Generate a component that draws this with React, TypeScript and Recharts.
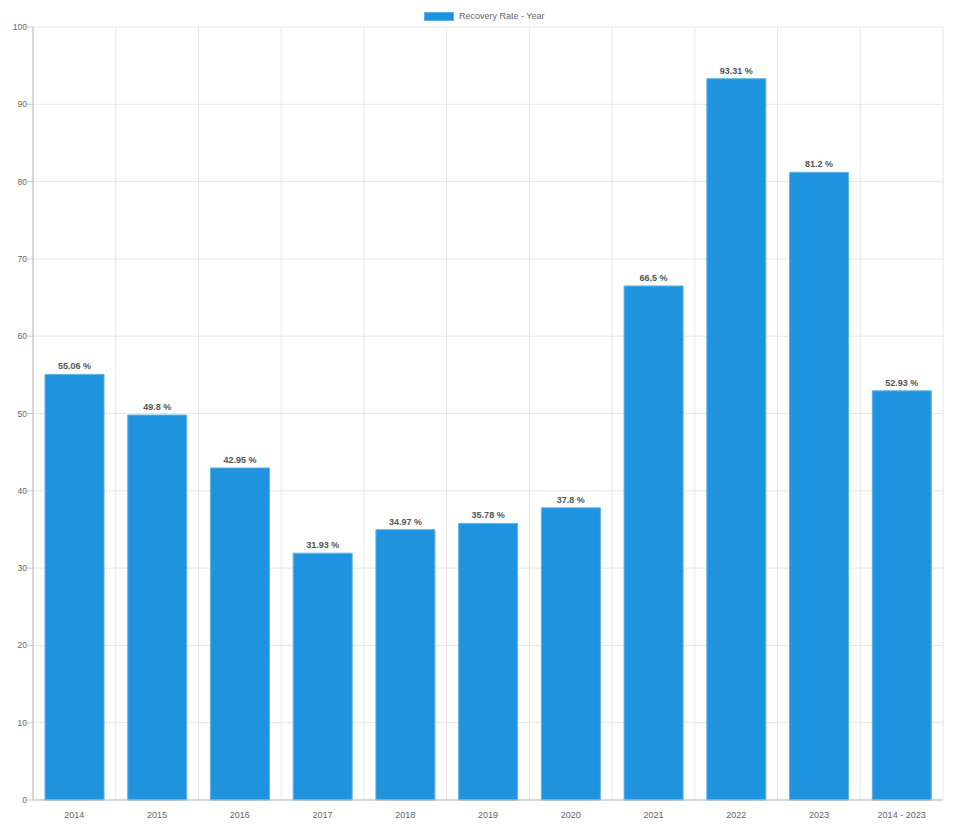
import { Bar, BarChart, CartesianGrid, LabelList, Legend, XAxis, YAxis } from "recharts";

const categories = ["2014", "2015", "2016", "2017", "2018", "2019", "2020", "2021", "2022", "2023", "2014 - 2023"];
const recoveryRate = [55.06, 49.8, 42.95, 31.93, 34.97, 35.78, 37.8, 66.5, 93.31, 81.2, 52.93];
const yTicks = [0, 10, 20, 30, 40, 50, 60, 70, 80, 90, 100];

const data = categories.map((year, i) => ({ year, rate: recoveryRate[i] }));

const FONT = '"Liberation Sans", Arial, sans-serif';
const BLUE = "#1f93de";

// legend sits a bit left of centre, like the original
function LegendBox() {
  return (
    <div style={{ display: "flex", alignItems: "center", fontFamily: FONT, fontSize: 9, color: "#666" }}>
      <span
        style={{
          display: "inline-block",
          width: 28,
          height: 7,
          background: BLUE,
          border: "1px solid #5fb2e8",
          marginRight: 5,
        }}
      />
      Recovery Rate - Year
    </div>
  );
}

export default function App() {
  return (
    <div style={{ position: "absolute", left: 0, top: 0, width: 975, height: 825, background: "#fff" }}>
      <BarChart
        width={975}
        height={825}
        data={data}
        margin={{ top: 7, right: 32, left: 0, bottom: 0 }}
      >
        <Legend
          verticalAlign="top"
          height={20}
          content={<LegendBox />}
          wrapperStyle={{ top: 11, left: 424, width: "auto" }}
        />
        <CartesianGrid
          stroke="#e6e6e6"
          verticalCoordinatesGenerator={({ offset }) =>
            categories.map((_, i) => offset.left + (i * offset.width) / categories.length).concat(offset.left + offset.width)
          }
        />
        <XAxis
          dataKey="year"
          height={25}
          stroke="#bbb"
          tickLine={false}
          tick={{ fill: "#666", fontSize: 9, fontFamily: FONT }}
          tickMargin={6}
          interval={0}
        />
        <YAxis
          width={33}
          domain={[0, 100]}
          ticks={yTicks}
          stroke="#bbb"
          tickLine={{ stroke: "#ccc" }}
          tickSize={6}
          tick={{ fill: "#666", fontSize: 8.5, fontFamily: FONT }}
          tickMargin={0}
        />
        <Bar dataKey="rate" fill={BLUE} stroke="#5fb2e8" strokeWidth={1} barSize={59} isAnimationActive={false}>
          <LabelList
            dataKey="rate"
            position="top"
            offset={5}
            formatter={(v: number) => `${v} %`}
            style={{ fill: "#555", fontSize: 9, fontWeight: "bold", fontFamily: FONT }}
          />
        </Bar>
      </BarChart>
    </div>
  );
}
